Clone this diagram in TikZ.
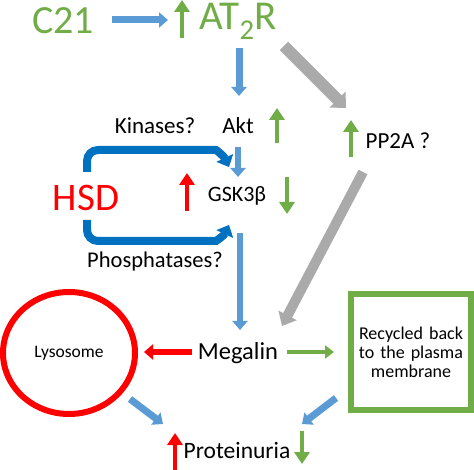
\documentclass[tikz,border=0pt]{standalone}
\usepackage{fontspec}
\setmainfont{Carlito}
\usetikzlibrary{arrows.meta}
\definecolor{cgreen}{RGB}{112,173,71}
\definecolor{cblue}{RGB}{91,155,213}
\definecolor{cdblue}{RGB}{0,112,192}
\definecolor{cgray}{RGB}{170,170,170}
\definecolor{cred}{RGB}{255,0,0}
\tikzset{
  fs/.style={font=\fontsize{#1}{#1}\selectfont, inner sep=0pt},
  bluearr/.style={draw=cblue, line width=7pt, -{Triangle[length=9pt,width=15pt]}},
  grayarr/.style={draw=cgray, line width=12pt, -{Triangle[length=12pt,width=22pt]}},
  greenup/.style={draw=cgreen, line width=3.5pt, -{Triangle[length=12pt,width=15pt]}},
  redup/.style={draw=cred, line width=3.5pt, -{Triangle[length=12pt,width=15pt]}},
  bracket/.style={draw=cdblue, line width=8pt, -{Triangle[length=10pt,width=18pt]}, rounded corners=11pt},
}
\begin{document}
\begin{tikzpicture}[x=1pt,y=-1pt]
\useasboundingbox (0,0) rectangle (474,470);
% texts
\node[fs=40, text=cgreen] (c21) at (63,21) {C21};
\node[fs=41, text=cgreen] (at2r) at (238,21) {AT\textsubscript{2}R};
\node[fs=23] (kin) at (155,126) {Kinases?};
\node[fs=23] (akt) at (238,126) {Akt};
\node[fs=23] (pp2a) at (398,141) {PP2A ?};
\node[fs=39, text=cred] (hsd) at (86,198) {HSD};
\node[fs=22] (gsk) at (237,196) {GSK3β};
\node[fs=22.5] (phos) at (155,262) {Phosphatases?};
\node[fs=24.5] (meg) at (238,353) {Megalin};
\node[fs=17.5] (lys) at (69,353) {Lysosome};
\node[fs=18, align=center, text width=124pt] (rec) at (411,352) {Recycled back\\[1pt]to the plasma\\[1pt]membrane};
\node[fs=23.5] (prot) at (237,451) {Proteinuria};
% shapes
\draw[cred, line width=6pt] (lys) ellipse [x radius=66pt, y radius=61pt];
\draw[cgreen, line width=6pt] (351,294) rectangle (471,410);
% arrows top
\draw[bluearr] (112,20) -- (168,20);
\draw[greenup] (182,38) -- (182,0);
\draw[bluearr] (239,48) -- (239,96);
\draw[grayarr] (284,46) -- (346,108);
\draw[greenup] (277,143) -- (277,108);
\draw[greenup] (351,157) -- (351,120);
\draw[bluearr, line width=6pt] (238,147) -- (238,177);
\draw[redup] (187,211) -- (187,173);
\draw[greenup] (287,177) -- (287,214);
% brackets
\draw[bracket] (87,172) -- (87,150) -- (205,150) to[out=0,in=115] (229,167);
\draw[bracket] (87,220) -- (87,241) -- (205,241) to[out=0,in=-115] (229,225);
% to megalin
\draw[bluearr, line width=6pt] (240,233) -- (240,330);
\draw[grayarr, line width=10pt, -{Triangle[length=12pt,width=20pt]}] (363,172) -- (282,326);
\draw[draw=cred, line width=6pt, -{Triangle[length=9pt,width=15pt]}] (192,352) -- (144,352);
\draw[draw=cgreen, line width=4pt, -{Triangle[length=9pt,width=13pt]}] (287,352) -- (334,352);
\draw[bluearr] (130,399) -- (163,424);
\draw[bluearr] (336,398) -- (302,424);
\draw[redup] (175,472) -- (175,433);
\draw[greenup] (302,431) -- (302,464);
\end{tikzpicture}
\end{document}
